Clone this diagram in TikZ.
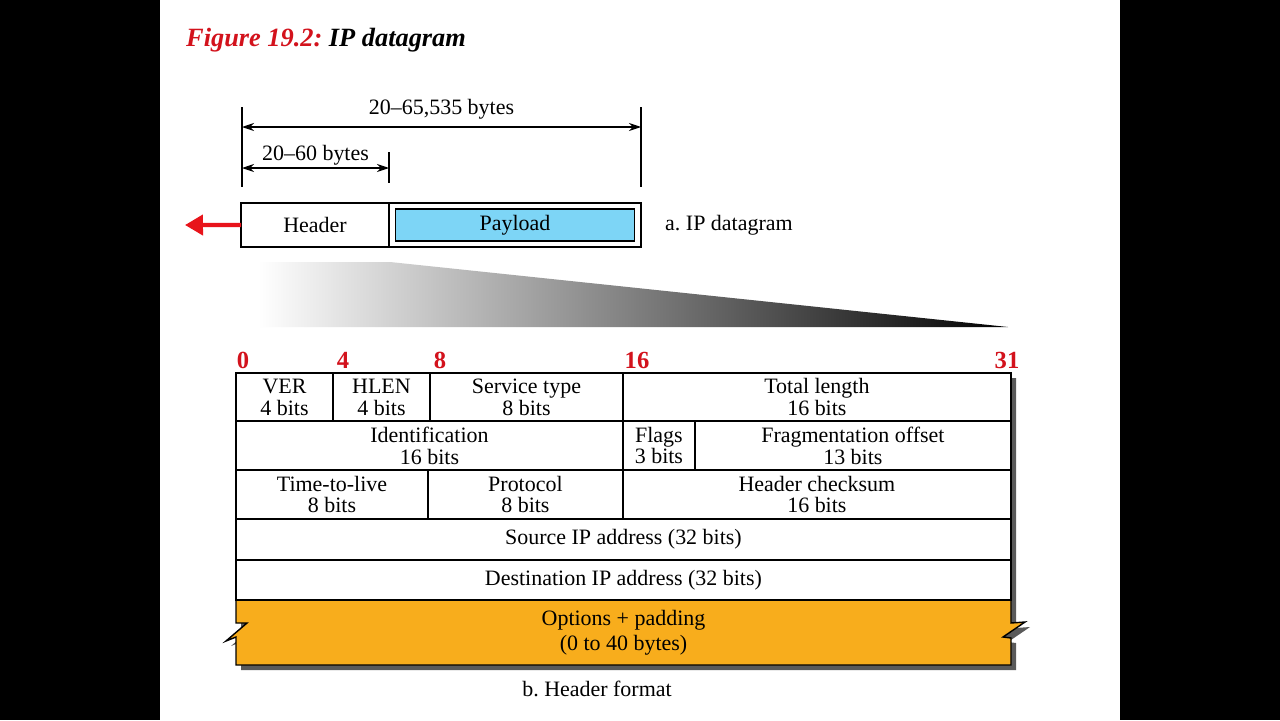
\documentclass[tikz,border=0pt]{standalone}
\usepackage{fontspec}
\setmainfont{Liberation Serif}
\usepackage{xcolor}
\usetikzlibrary{arrows.meta,positioning}
\definecolor{FigRed}{HTML}{D3121C}
\definecolor{ArrowRed}{HTML}{E8141B}
\definecolor{PayBlue}{HTML}{7DD5F6}
\definecolor{OptOrange}{HTML}{F8AD1C}
\definecolor{ShadowGray}{HTML}{5A5A5A}
\frenchspacing

\begin{document}
\begin{tikzpicture}[x=0.02cm, y=-0.02cm,
  field/.style={draw, line width=0.8pt, fill=white, inner sep=0pt, outer sep=0pt,
    anchor=north west, align=center, font=\fontsize{12.5}{12.5}\selectfont},
  bitnum/.style={text=FigRed, font=\fontsize{14}{14}\selectfont\bfseries},
  plain/.style={font=\fontsize{12.5}{14}\selectfont, align=center},
  dimline/.style={{Stealth[length=2.4mm, width=1.6mm]}-{Stealth[length=2.4mm, width=1.6mm]}, line width=0.6pt},
  tick/.style={line width=0.6pt}
]
  \useasboundingbox (0,0) rectangle (1280,720);
  \fill[white] (160,0) rectangle (1120,720);
  \fill[black] (0,0) rectangle (160,720);
  \fill[black] (1120,0) rectangle (1280,720);

  % title
  \node[anchor=base west, font=\fontsize{15}{15}\selectfont\bfseries\itshape] (title)
    at (180,46) {\textcolor{FigRed}{Figure 19.2:} IP datagram};

  % a. IP datagram
  \node[field, minimum width=2.96cm, minimum height=0.88cm] (hdr) at (241,203) {Header};
  \node[field, minimum width=5.04cm, minimum height=0.88cm, right=0pt of hdr] (pay) {};
  \node[draw, line width=0.8pt, fill=PayBlue, minimum width=4.78cm, minimum height=0.64cm,
    inner sep=0pt, font=\fontsize{12.5}{12.5}\selectfont] (paybox) at (pay.center) {Payload};
  \node[plain, anchor=west] (capa) at (659,225) {a. IP datagram};

  \coordinate (redtip) at (185,225);
  \draw[-{Triangle[length=3.6mm, width=4mm]}, line width=2.4pt, ArrowRed] (hdr.west) -- (redtip);

  % byte ranges
  \coordinate (tickA) at (242,107);
  \coordinate (tickB) at (389,152);
  \coordinate (tickC) at (641,107);
  \draw[tick] (tickA) -- (242,187);
  \draw[tick] (tickB) -- (389,183);
  \draw[tick] (tickC) -- (641,187);
  \coordinate (totL) at (242,127);
  \coordinate (totR) at (641,127);
  \coordinate (hdrL) at (242,168);
  \coordinate (hdrR) at (389,168);
  \draw[dimline] (totL) -- (totR) node[midway, above=1pt, plain] (totlab) {20--65,535 bytes};
  \draw[dimline] (hdrL) -- (hdrR) node[midway, above=-2pt, plain] (hdrlab) {20--60 bytes};

  % zoom wedge
  \shade[left color=white, middle color=black!68, right color=black]
    (258,262) -- (390,262) -- (1008,327) -- (258,327) -- cycle;

  % bit positions
  \node[bitnum] (b0) at (243,360) {0};
  \node[bitnum] (b4) at (343,360) {4};
  \node[bitnum] (b8) at (440,360) {8};
  \node[bitnum] (b16) at (637,360) {16};
  \node[bitnum] (b31) at (1007,360) {31};

  % shadow and options
  \fill[ShadowGray, shift={(5,5)}] (236,373) -- (1011,373) -- (1011,623) -- (1025,622)
    -- (1003,637) -- (1011,638) -- (1011,665) -- (236,665) -- (236,637) -- (226,641)
    -- (247,623) -- (236,623) -- cycle;
  \draw[fill=OptOrange, line width=0.8pt] (236,600) -- (1011,600) -- (1011,623) -- (1025,622)
    -- (1003,637) -- (1011,638) -- (1011,665) -- (236,665) -- (236,637) -- (226,641)
    -- (247,623) -- (236,623) -- cycle;
  \node[plain] (opts) at (623.5,633) {Options + padding\\(0 to 40 bytes)};

  % header fields
  \node[field, minimum width=1.94cm, minimum height=0.96cm] (ver) at (236,373) {VER\\4 bits};
  \node[field, minimum width=1.94cm, minimum height=0.96cm, right=0pt of ver] (hlen) {HLEN\\4 bits};
  \node[field, minimum width=3.86cm, minimum height=0.96cm, right=0pt of hlen] (svc) {Service type\\8 bits};
  \node[field, minimum width=7.76cm, minimum height=0.96cm, right=0pt of svc] (totlen) {Total length\\16 bits};

  \node[field, minimum width=7.74cm, minimum height=0.98cm] (ident) at (ver.south west) {Identification\\16 bits};
  \node[field, minimum width=1.44cm, minimum height=0.98cm, right=0pt of ident] (flags) {Flags\\3 bits};
  \node[field, minimum width=6.32cm, minimum height=0.98cm, right=0pt of flags] (frag) {Fragmentation offset\\13 bits};

  \node[field, minimum width=3.84cm, minimum height=0.98cm] (ttl) at (ident.south west) {Time-to-live\\8 bits};
  \node[field, minimum width=3.90cm, minimum height=0.98cm, right=0pt of ttl] (proto) {Protocol\\8 bits};
  \node[field, minimum width=7.76cm, minimum height=0.98cm, right=0pt of proto] (cksum) {Header checksum\\16 bits};

  \node[field, minimum width=15.5cm, minimum height=0.82cm] (src) at (ttl.south west) {Source IP address (32 bits)};
  \node[field, minimum width=15.5cm, minimum height=0.80cm] (dst) at (src.south west) {Destination IP address (32 bits)};

  \node[plain] (capb) at (597,689) {b. Header format};
\end{tikzpicture}
\end{document}
